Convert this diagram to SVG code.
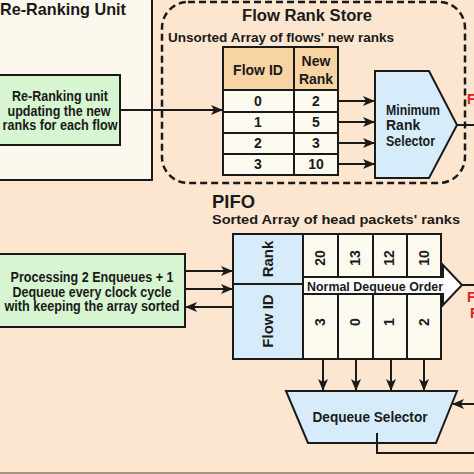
<svg xmlns="http://www.w3.org/2000/svg" width="474" height="474" viewBox="0 0 474 474">
<defs>
<style>
.t{font-family:"Liberation Sans",Arial,sans-serif;font-weight:bold;fill:#1a1a1a}
.c{text-anchor:middle}
.red{fill:#e02020}
.box{stroke:#1a1a1a;stroke-width:2}
.ln{stroke:#1a1a1a;stroke-width:2;fill:none}
</style>
<marker id="ah" viewBox="0 0 12 10" refX="11" refY="5" markerWidth="12" markerHeight="10" markerUnits="userSpaceOnUse" orient="auto">
<path d="M0,0 L12,5 L0,10 L3,5 z" fill="#1a1a1a"/>
</marker>
</defs>
<rect x="0" y="0" width="474" height="474" fill="#fde6cf"/>
<rect x="0" y="472" width="474" height="2" fill="#a39482"/>

<g id="reranking-unit">
<rect x="-5" y="-5" width="157" height="185" fill="#fdf8ee" class="box"/>
<text x="0" y="15" class="t" font-size="17" textLength="126" lengthAdjust="spacingAndGlyphs">Re-Ranking Unit</text>
</g>

<g id="reranking-box">
<rect x="-5" y="75" width="125" height="70" fill="#d6f5d0" class="box"/>
<text x="60" y="101" class="t c" font-size="14" textLength="96" lengthAdjust="spacingAndGlyphs">Re-Ranking unit</text>
<text x="59" y="115.5" class="t c" font-size="14" textLength="103" lengthAdjust="spacingAndGlyphs">updating the new</text>
<text x="60" y="130" class="t c" font-size="14" textLength="115" lengthAdjust="spacingAndGlyphs">ranks for each flow</text>
</g>

<g id="flow-rank-store">
<rect x="162" y="2" width="303" height="181" rx="26" ry="26" fill="none" stroke="#1a1a1a" stroke-width="2.5" stroke-dasharray="7,4"/>
<text x="307" y="21" class="t c" font-size="16" textLength="130" lengthAdjust="spacingAndGlyphs">Flow Rank Store</text>
<text x="168" y="42" class="t" font-size="13" textLength="226" lengthAdjust="spacingAndGlyphs">Unsorted Array of flows' new ranks</text>
</g>

<g id="flow-table">
<rect x="223" y="47" width="115" height="43" fill="#f8d3a3" class="box"/>
<rect x="223" y="90" width="115" height="85" fill="#fdfaf0" class="box"/>
<line x1="294" y1="47" x2="294" y2="175" class="ln"/>
<line x1="223" y1="112" x2="338" y2="112" class="ln"/>
<line x1="223" y1="133" x2="338" y2="133" class="ln"/>
<line x1="223" y1="154" x2="338" y2="154" class="ln"/>
<text x="258" y="75" class="t c" font-size="14">Flow ID</text>
<text x="316" y="66" class="t c" font-size="14">New</text>
<text x="316" y="84" class="t c" font-size="14">Rank</text>
<text x="258" y="106" class="t c" font-size="14">0</text>
<text x="258" y="127" class="t c" font-size="14">1</text>
<text x="258" y="148" class="t c" font-size="14">2</text>
<text x="258" y="169" class="t c" font-size="14">3</text>
<text x="316" y="106" class="t c" font-size="14">2</text>
<text x="316" y="127" class="t c" font-size="14">5</text>
<text x="316" y="148" class="t c" font-size="14">3</text>
<text x="316" y="169" class="t c" font-size="14">10</text>
</g>

<g id="minimum-rank-selector">
<path d="M375,71 L429,71 L457,125 L429,178 L375,178 Z" fill="#d6ecfb" class="box"/>
<text x="386" y="115" class="t" font-size="14" textLength="54" lengthAdjust="spacingAndGlyphs">Minimum</text>
<text x="386" y="130" class="t" font-size="14">Rank</text>
<text x="386" y="146" class="t" font-size="14" textLength="49" lengthAdjust="spacingAndGlyphs">Selector</text>
</g>

<g id="pifo">
<text x="212" y="208" class="t" font-size="18" textLength="43" lengthAdjust="spacingAndGlyphs">PIFO</text>
<text x="212" y="224" class="t" font-size="13" textLength="248" lengthAdjust="spacingAndGlyphs">Sorted Array of head packets' ranks</text>
</g>

<g id="pifo-table">
<rect x="233" y="234" width="70" height="125" fill="#d6ecfb" class="box"/>
<rect x="303" y="234" width="138" height="125" fill="#fdfaf0" class="box"/>
<line x1="233" y1="284" x2="303" y2="284" class="ln"/>
<line x1="338" y1="234" x2="338" y2="359" class="ln"/>
<line x1="373" y1="234" x2="373" y2="359" class="ln"/>
<line x1="407" y1="234" x2="407" y2="359" class="ln"/>
<text transform="translate(273,259) rotate(-90)" class="t c" font-size="15">Rank</text>
<text transform="translate(273,321) rotate(-90)" class="t c" font-size="15">Flow ID</text>
<text transform="translate(325,258) rotate(-90)" class="t c" font-size="14">20</text>
<text transform="translate(360,258) rotate(-90)" class="t c" font-size="14">13</text>
<text transform="translate(394,258) rotate(-90)" class="t c" font-size="14">12</text>
<text transform="translate(429,258) rotate(-90)" class="t c" font-size="14">10</text>
<text transform="translate(325,322) rotate(-90)" class="t c" font-size="14">3</text>
<text transform="translate(360,322) rotate(-90)" class="t c" font-size="14">0</text>
<text transform="translate(394,322) rotate(-90)" class="t c" font-size="14">1</text>
<text transform="translate(429,322) rotate(-90)" class="t c" font-size="14">2</text>
</g>

<g id="dequeue-order">
<path d="M303,277 L443,277 L443,265 L462,285 L443,305 L443,294 L303,294 Z" fill="#ffffff" class="box"/>
<text x="375" y="290.5" class="t c" font-size="13" textLength="136" lengthAdjust="spacingAndGlyphs">Normal Dequeue Order</text>
</g>

<g id="processing-box">
<rect x="-5" y="254" width="190" height="73" fill="#d6f5d0" class="box"/>
<text x="92" y="282" class="t c" font-size="14" textLength="163" lengthAdjust="spacingAndGlyphs">Processing 2 Enqueues + 1</text>
<text x="92" y="296.5" class="t c" font-size="14" textLength="159" lengthAdjust="spacingAndGlyphs">Dequeue every clock cycle</text>
<text x="92" y="311" class="t c" font-size="14" textLength="175" lengthAdjust="spacingAndGlyphs">with keeping the array sorted</text>
</g>

<g id="dequeue-selector">
<path d="M286,391 L457,391 L436,443 L308,443 Z" fill="#d6ecfb" class="box"/>
<text x="370" y="422" class="t c" font-size="14" textLength="115" lengthAdjust="spacingAndGlyphs">Dequeue Selector</text>
</g>

<g id="red-labels">
<text x="467" y="104" class="t red" font-size="14">F</text>
<text x="467" y="302" class="t red" font-size="14">F</text>
<text x="470" y="318" class="t red" font-size="14">F</text>
</g>

<g id="connectors">
<line x1="120" y1="110" x2="222" y2="110" class="ln" marker-end="url(#ah)"/>
<line x1="338" y1="101" x2="374" y2="101" class="ln" marker-end="url(#ah)"/>
<line x1="338" y1="122" x2="374" y2="122" class="ln" marker-end="url(#ah)"/>
<line x1="338" y1="143" x2="374" y2="143" class="ln" marker-end="url(#ah)"/>
<line x1="338" y1="164" x2="374" y2="164" class="ln" marker-end="url(#ah)"/>
<line x1="457" y1="125" x2="474" y2="125" class="ln"/>
<line x1="185" y1="271" x2="232" y2="271" class="ln" marker-end="url(#ah)"/>
<line x1="185" y1="289" x2="232" y2="289" class="ln" marker-end="url(#ah)"/>
<line x1="233" y1="307" x2="186" y2="307" class="ln" marker-end="url(#ah)"/>
<line x1="462" y1="285" x2="474" y2="285" class="ln"/>
<line x1="323" y1="359" x2="323" y2="390" class="ln" marker-end="url(#ah)"/>
<line x1="356" y1="359" x2="356" y2="390" class="ln" marker-end="url(#ah)"/>
<line x1="391" y1="359" x2="391" y2="390" class="ln" marker-end="url(#ah)"/>
<line x1="424" y1="359" x2="424" y2="390" class="ln" marker-end="url(#ah)"/>
<line x1="474" y1="404" x2="453" y2="404" class="ln" marker-end="url(#ah)"/>
<path d="M377,433 L377,453 L474,453" class="ln"/>
</g>
</svg>
